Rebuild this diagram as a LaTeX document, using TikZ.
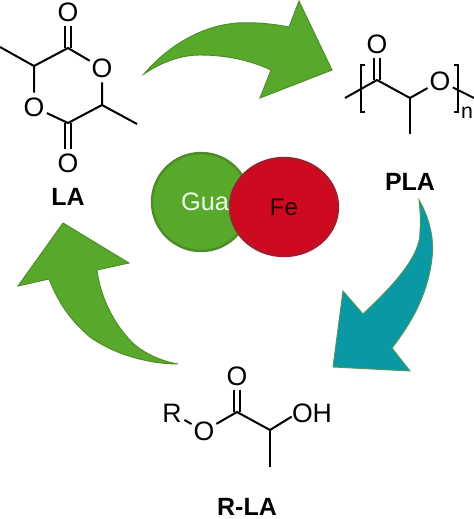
\documentclass[tikz,border=0pt]{standalone}
\usepackage{fontspec}
\usetikzlibrary{shapes.geometric}
\setmainfont{Liberation Sans}
\definecolor{leafgreen}{HTML}{58A92B}
\definecolor{leafedge}{HTML}{4C8C27}
\definecolor{tealfill}{HTML}{0A98A4}
\definecolor{tealedge}{HTML}{4E9A55}
\definecolor{ironred}{HTML}{CE0A20}
\definecolor{ironedge}{HTML}{A51C2C}
\tikzset{
  bond/.style={line width=1.5pt, black},
  dbond/.style={bond, double, double distance=3pt},
  atom/.style={circle, inner sep=0pt, minimum size=21pt, font=\fontsize{20}{20}\selectfont},
  title/.style={inner sep=0pt, font=\fontsize{18.7}{20}\selectfont\bfseries},
  greenarrow/.style={draw=leafedge, fill=leafgreen, line width=0.7pt},
  tealarrow/.style={draw=tealedge, fill=tealfill, line width=0.7pt},
}
\begin{document}
\begin{tikzpicture}[x=0.75pt,y=-0.75pt]
  \useasboundingbox (0,0) rectangle (474,519);
  % Arrows
  \draw[greenarrow] (144,74) .. controls (167,47) and (200,26) .. (237,23)
    .. controls (256,22) and (274,24) .. (289,27) -- (299,1) -- (332,70) -- (260,98) -- (271,70)
    .. controls (250,60) and (225,55) .. (200,55) .. controls (180,55) and (160,63) .. (144,74) -- cycle;
  \draw[tealarrow] (419,200) .. controls (432,222) and (434,245) .. (432,258)
    .. controls (428,295) and (410,325) .. (392,348) -- (410,371) -- (333,367) -- (343,291) -- (363,314)
    .. controls (385,293) and (422,258) .. (420,230) .. controls (421,220) and (420,210) .. (419,200) -- cycle;
  \draw[greenarrow] (178,364) .. controls (150,364) and (115,355) .. (90,337)
    .. controls (70,320) and (58,302) .. (49,279) -- (18,286) -- (63,223) -- (129,263) -- (97,270)
    .. controls (100,295) and (112,320) .. (128,338) .. controls (140,352) and (160,361) .. (178,364) -- cycle;
  % Centre
  \node[ellipse, draw=leafedge, fill=leafgreen, line width=1.8pt, inner sep=0pt, minimum width=73.5pt, minimum height=73.5pt] (gua) at (201,202) {};
  \node[inner sep=0pt, text=green!8, font=\fontsize{19}{20}\selectfont] (gualabel) at (205,202) {Gua};
  \node[ellipse, draw=ironedge, fill=ironred, line width=1.8pt, inner sep=0pt, minimum width=81pt, minimum height=73.5pt, text=black!85!red, font=\fontsize{18}{20}\selectfont] (fe) at (284,207) {Fe};
  % LA
  \coordinate (laCa) at (68,48);
  \coordinate (laCb) at (68,123);
  \coordinate (laCHa) at (34,66);
  \coordinate (laCHb) at (102,105);
  \coordinate (laMea) at (0,47);
  \coordinate (laMeb) at (137,124);
  \node[atom] (laOa) at (68,12) {O};
  \node[atom] (laOb) at (102,68) {O};
  \node[atom] (laOc) at (34,107) {O};
  \node[atom] (laOd) at (68,163) {O};
  \draw[dbond] (laCa) -- (laOa);
  \draw[dbond] (laCb) -- (laOd);
  \draw[bond] (laOb) -- (laCa) -- (laCHa) -- (laOc);
  \draw[bond] (laOc) -- (laCb) -- (laCHb) -- (laOb);
  \draw[bond] (laCHa) -- (laMea);
  \draw[bond] (laCHb) -- (laMeb);
  \node[title] (lalabel) at (68,197) {LA};
  % PLA
  \coordinate (plaC) at (377,80);
  \coordinate (plaCH) at (410,98);
  \coordinate (plaMe) at (410,134);
  \coordinate (plaL) at (345,98);
  \coordinate (plaR) at (474,98);
  \node[atom] (plaOa) at (377,44) {O};
  \node[atom] (plaOb) at (440,81) {O};
  \draw[dbond] (plaC) -- (plaOa);
  \draw[bond] (plaL) -- (plaC) -- (plaCH) -- (plaOb);
  \draw[bond] (plaCH) -- (plaMe);
  \draw[bond] (plaOb) -- (plaR);
  \draw[line width=1.2pt] (365,65) -- (361,65) -- (361,112) -- (365,112);
  \draw[line width=1.2pt] (454,65) -- (458,65) -- (458,112) -- (454,112);
  \node[inner sep=0pt, font=\fontsize{16}{20}\selectfont] (plan) at (467,113) {n};
  \node[title] (plalabel) at (410,182) {PLA};
  % R-LA
  \coordinate (rlaC) at (237,412);
  \coordinate (rlaCH) at (270,430);
  \coordinate (rlaMe) at (270,467);
  \node[atom] (rlaR) at (172,413) {R};
  \node[atom] (rlaOa) at (204,431) {O};
  \node[atom] (rlaOb) at (237,376) {O};
  \node[inner sep=0pt, font=\fontsize{20}{20}\selectfont] (rlaOH) at (312,413) {OH};
  \draw[dbond] (rlaC) -- (rlaOb);
  \draw[bond] (rlaR) -- (rlaOa) -- (rlaC) -- (rlaCH) -- (rlaOH.190);
  \draw[bond] (rlaCH) -- (rlaMe);
  \node[title] (rlalabel) at (247,507) {R-LA};
\end{tikzpicture}
\end{document}
